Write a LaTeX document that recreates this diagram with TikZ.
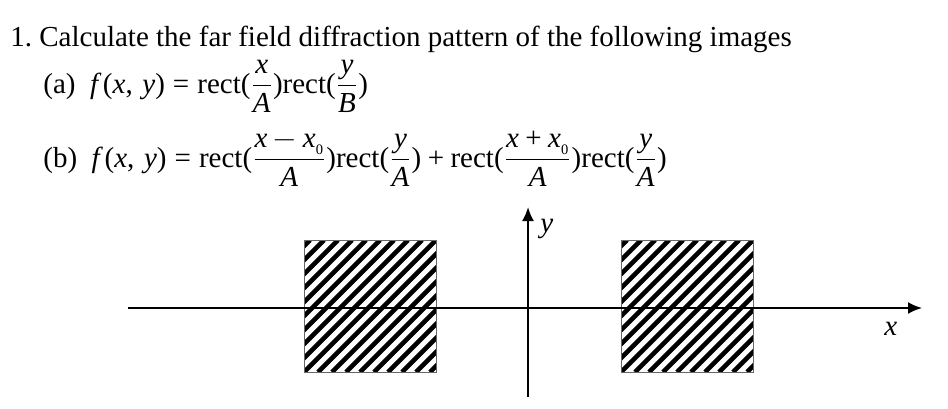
\documentclass[tikz,border=0pt]{standalone}
\usepackage{amsmath}
\usepackage{unicode-math}
\setmainfont{Liberation Serif}
\setmathfont{Latin Modern Math}
\setmathfont{Liberation Serif Italic}[range=it->up]
\setmathfont{Liberation Serif}[range={"28,"29,"2B,"3D,"2C,"2212,up/num}]
\usetikzlibrary{arrows.meta}
\usetikzlibrary{positioning}
\tikzset{
txt/.style={anchor=base west,
  inner sep=0pt,
    font=\fontsize{14.5}{17}\selectfont},
hatchbox/.style={draw=black!60,
  line width=0.5pt,
    minimum width=66pt,
    minimum height=66pt,
    inner sep=0pt,
    path picture={
      \foreach \i in {-10,...,10}
        \draw[black, line width=2.3pt]
          ([xshift=\i*7pt]path picture bounding box.south west) -- ++(66pt,66pt);
    }},
axis/.style={line width=1pt,
  -{Latex[length=7pt,width=6pt]}},
}

\begin{document}
\begin{tikzpicture}[x=0.5pt,y=-0.5pt]
    \useasboundingbox (0,0) rectangle (948,408);

    \node [txt] (q) at (10,46) {1.\ Calculate the far field diffraction pattern of the following images};
    \node [txt] (qa) at (43,93) {(a)\ \ $f\,(x,\,y)=\textup{rect}(\dfrac{x}{A})\textup{rect}(\dfrac{y}{B})$};
    \node [txt] (qb) at (43,167) {(b)\ \ $f\,(x,\,y)=\textup{rect}(\dfrac{x-x_{\scriptscriptstyle 0}}{A})\textup{rect}(\dfrac{y}{A})+\textup{rect}(\dfrac{x+x_{\scriptscriptstyle 0}}{A})\textup{rect}(\dfrac{y}{A})$};

    \node [hatchbox] (lbox) at (370,306) {};
    \node [hatchbox] (rbox) at (687,306) {};

    \coordinate (xs) at (128,308);
    \coordinate (xe) at (922,308);
    \coordinate (ys) at (528,397);
    \coordinate (ye) at (528,207);

  \draw [axis] (xs) -- (xe);
  \draw [axis] (ys) -- (ye);

    \node [txt, font=\fontsize{14.5}{17}\selectfont\itshape] (xl) at (884,335) {x};
    \node [txt, font=\fontsize{14.5}{17}\selectfont\itshape] (yl) at (540,232) {y};
  \end{tikzpicture}
\end{document}
